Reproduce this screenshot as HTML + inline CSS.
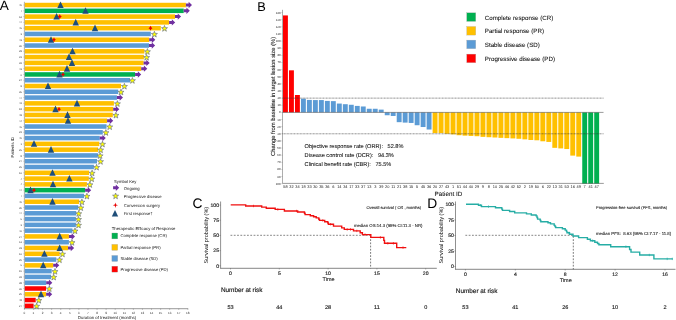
<!DOCTYPE html>
<html><head><meta charset="utf-8"><style>
html,body{margin:0;padding:0;background:#fff;width:676px;height:320px;overflow:hidden;}
svg{display:block;will-change:transform;} .b{stroke:#222;stroke-width:0.15px;} .c{stroke:#222;stroke-width:0.08px;} svg{font-family:"Liberation Sans", sans-serif;text-rendering:geometricPrecision;}
</style></head><body>
<svg width="676" height="320" viewBox="0 0 676 320" font-family='"Liberation Sans", sans-serif'><text x="-0.3" y="9.8" font-size="13.6" fill="#000">A</text>
<line x1="24.4" y1="1.8" x2="24.4" y2="308.8" stroke="#777" stroke-width="0.6"/>
<line x1="24.1" y1="308.7" x2="188.2" y2="308.7" stroke="#555" stroke-width="0.6"/>
<line x1="24.40" y1="308.7" x2="24.40" y2="309.8" stroke="#555" stroke-width="0.4"/>
<text x="24.40" y="313.6" font-size="3.1" fill="#333" text-anchor="middle">0</text>
<line x1="33.48" y1="308.7" x2="33.48" y2="309.8" stroke="#555" stroke-width="0.4"/>
<text x="33.48" y="313.6" font-size="3.1" fill="#333" text-anchor="middle">1</text>
<line x1="42.56" y1="308.7" x2="42.56" y2="309.8" stroke="#555" stroke-width="0.4"/>
<text x="42.56" y="313.6" font-size="3.1" fill="#333" text-anchor="middle">2</text>
<line x1="51.64" y1="308.7" x2="51.64" y2="309.8" stroke="#555" stroke-width="0.4"/>
<text x="51.64" y="313.6" font-size="3.1" fill="#333" text-anchor="middle">3</text>
<line x1="60.72" y1="308.7" x2="60.72" y2="309.8" stroke="#555" stroke-width="0.4"/>
<text x="60.72" y="313.6" font-size="3.1" fill="#333" text-anchor="middle">4</text>
<line x1="69.80" y1="308.7" x2="69.80" y2="309.8" stroke="#555" stroke-width="0.4"/>
<text x="69.80" y="313.6" font-size="3.1" fill="#333" text-anchor="middle">5</text>
<line x1="78.88" y1="308.7" x2="78.88" y2="309.8" stroke="#555" stroke-width="0.4"/>
<text x="78.88" y="313.6" font-size="3.1" fill="#333" text-anchor="middle">6</text>
<line x1="87.96" y1="308.7" x2="87.96" y2="309.8" stroke="#555" stroke-width="0.4"/>
<text x="87.96" y="313.6" font-size="3.1" fill="#333" text-anchor="middle">7</text>
<line x1="97.04" y1="308.7" x2="97.04" y2="309.8" stroke="#555" stroke-width="0.4"/>
<text x="97.04" y="313.6" font-size="3.1" fill="#333" text-anchor="middle">8</text>
<line x1="106.12" y1="308.7" x2="106.12" y2="309.8" stroke="#555" stroke-width="0.4"/>
<text x="106.12" y="313.6" font-size="3.1" fill="#333" text-anchor="middle">9</text>
<line x1="115.20" y1="308.7" x2="115.20" y2="309.8" stroke="#555" stroke-width="0.4"/>
<text x="115.20" y="313.6" font-size="3.1" fill="#333" text-anchor="middle">10</text>
<line x1="124.28" y1="308.7" x2="124.28" y2="309.8" stroke="#555" stroke-width="0.4"/>
<text x="124.28" y="313.6" font-size="3.1" fill="#333" text-anchor="middle">11</text>
<line x1="133.36" y1="308.7" x2="133.36" y2="309.8" stroke="#555" stroke-width="0.4"/>
<text x="133.36" y="313.6" font-size="3.1" fill="#333" text-anchor="middle">12</text>
<line x1="142.44" y1="308.7" x2="142.44" y2="309.8" stroke="#555" stroke-width="0.4"/>
<text x="142.44" y="313.6" font-size="3.1" fill="#333" text-anchor="middle">13</text>
<line x1="151.52" y1="308.7" x2="151.52" y2="309.8" stroke="#555" stroke-width="0.4"/>
<text x="151.52" y="313.6" font-size="3.1" fill="#333" text-anchor="middle">14</text>
<line x1="160.60" y1="308.7" x2="160.60" y2="309.8" stroke="#555" stroke-width="0.4"/>
<text x="160.60" y="313.6" font-size="3.1" fill="#333" text-anchor="middle">15</text>
<line x1="169.68" y1="308.7" x2="169.68" y2="309.8" stroke="#555" stroke-width="0.4"/>
<text x="169.68" y="313.6" font-size="3.1" fill="#333" text-anchor="middle">16</text>
<line x1="178.76" y1="308.7" x2="178.76" y2="309.8" stroke="#555" stroke-width="0.4"/>
<text x="178.76" y="313.6" font-size="3.1" fill="#333" text-anchor="middle">17</text>
<line x1="187.84" y1="308.7" x2="187.84" y2="309.8" stroke="#555" stroke-width="0.4"/>
<text x="187.84" y="313.6" font-size="3.1" fill="#333" text-anchor="middle">18</text>
<text x="78" y="318.6" font-size="4.28" fill="#111">Duration of treatment (months)</text>
<text transform="translate(14.3,157.6) rotate(-90)" font-size="4.2" fill="#111">Patients ID</text>
<rect x="24.80" y="2.78" width="161.10" height="4.50" fill="#FFC000"/>
<line x1="23.4" y1="5.03" x2="24.4" y2="5.03" stroke="#777" stroke-width="0.4"/>
<text x="22.1" y="6.13" font-size="2.7" fill="#333" text-anchor="end">40</text>
<rect x="24.80" y="8.57" width="158.90" height="4.50" fill="#00B050"/>
<line x1="23.4" y1="10.82" x2="24.4" y2="10.82" stroke="#777" stroke-width="0.4"/>
<text x="22.1" y="11.92" font-size="2.7" fill="#333" text-anchor="end">7</text>
<rect x="24.80" y="14.35" width="150.20" height="4.50" fill="#FFC000"/>
<line x1="23.4" y1="16.60" x2="24.4" y2="16.60" stroke="#777" stroke-width="0.4"/>
<text x="22.1" y="17.70" font-size="2.7" fill="#333" text-anchor="end">52</text>
<rect x="24.80" y="20.14" width="144.30" height="4.50" fill="#FFC000"/>
<line x1="23.4" y1="22.39" x2="24.4" y2="22.39" stroke="#777" stroke-width="0.4"/>
<text x="22.1" y="23.49" font-size="2.7" fill="#333" text-anchor="end">47</text>
<rect x="24.80" y="25.92" width="136.00" height="4.50" fill="#FFC000"/>
<line x1="23.4" y1="28.17" x2="24.4" y2="28.17" stroke="#777" stroke-width="0.4"/>
<text x="22.1" y="29.27" font-size="2.7" fill="#333" text-anchor="end">45</text>
<rect x="24.80" y="31.70" width="126.00" height="4.50" fill="#5B9BD5"/>
<line x1="23.4" y1="33.95" x2="24.4" y2="33.95" stroke="#777" stroke-width="0.4"/>
<text x="22.1" y="35.05" font-size="2.7" fill="#333" text-anchor="end">3</text>
<rect x="24.80" y="37.49" width="124.40" height="4.50" fill="#FFC000"/>
<line x1="23.4" y1="39.74" x2="24.4" y2="39.74" stroke="#777" stroke-width="0.4"/>
<text x="22.1" y="40.84" font-size="2.7" fill="#333" text-anchor="end">43</text>
<rect x="24.80" y="43.28" width="124.20" height="4.50" fill="#5B9BD5"/>
<line x1="23.4" y1="45.53" x2="24.4" y2="45.53" stroke="#777" stroke-width="0.4"/>
<text x="22.1" y="46.63" font-size="2.7" fill="#333" text-anchor="end">36</text>
<rect x="24.80" y="49.06" width="119.60" height="4.50" fill="#FFC000"/>
<line x1="23.4" y1="51.31" x2="24.4" y2="51.31" stroke="#777" stroke-width="0.4"/>
<text x="22.1" y="52.41" font-size="2.7" fill="#333" text-anchor="end">29</text>
<rect x="24.80" y="54.84" width="119.10" height="4.50" fill="#FFC000"/>
<line x1="23.4" y1="57.09" x2="24.4" y2="57.09" stroke="#777" stroke-width="0.4"/>
<text x="22.1" y="58.20" font-size="2.7" fill="#333" text-anchor="end">31</text>
<rect x="24.80" y="60.63" width="118.80" height="4.50" fill="#FFC000"/>
<line x1="23.4" y1="62.88" x2="24.4" y2="62.88" stroke="#777" stroke-width="0.4"/>
<text x="22.1" y="63.98" font-size="2.7" fill="#333" text-anchor="end">32</text>
<rect x="24.80" y="66.42" width="116.40" height="4.50" fill="#FFC000"/>
<line x1="23.4" y1="68.67" x2="24.4" y2="68.67" stroke="#777" stroke-width="0.4"/>
<text x="22.1" y="69.77" font-size="2.7" fill="#333" text-anchor="end">43</text>
<rect x="24.80" y="72.20" width="110.30" height="4.50" fill="#00B050"/>
<line x1="23.4" y1="74.45" x2="24.4" y2="74.45" stroke="#777" stroke-width="0.4"/>
<text x="22.1" y="75.55" font-size="2.7" fill="#333" text-anchor="end">6</text>
<rect x="24.80" y="77.98" width="105.20" height="4.50" fill="#5B9BD5"/>
<line x1="23.4" y1="80.23" x2="24.4" y2="80.23" stroke="#777" stroke-width="0.4"/>
<text x="22.1" y="81.33" font-size="2.7" fill="#333" text-anchor="end">24</text>
<rect x="24.80" y="83.77" width="96.20" height="4.50" fill="#FFC000"/>
<line x1="23.4" y1="86.02" x2="24.4" y2="86.02" stroke="#777" stroke-width="0.4"/>
<text x="22.1" y="87.12" font-size="2.7" fill="#333" text-anchor="end">9</text>
<rect x="24.80" y="89.56" width="93.40" height="4.50" fill="#5B9BD5"/>
<line x1="23.4" y1="91.81" x2="24.4" y2="91.81" stroke="#777" stroke-width="0.4"/>
<text x="22.1" y="92.91" font-size="2.7" fill="#333" text-anchor="end">35</text>
<rect x="24.80" y="95.34" width="92.10" height="4.50" fill="#5B9BD5"/>
<line x1="23.4" y1="97.59" x2="24.4" y2="97.59" stroke="#777" stroke-width="0.4"/>
<text x="22.1" y="98.69" font-size="2.7" fill="#333" text-anchor="end">47</text>
<rect x="24.80" y="101.12" width="89.10" height="4.50" fill="#FFC000"/>
<line x1="23.4" y1="103.38" x2="24.4" y2="103.38" stroke="#777" stroke-width="0.4"/>
<text x="22.1" y="104.47" font-size="2.7" fill="#333" text-anchor="end">42</text>
<rect x="24.80" y="106.91" width="88.40" height="4.50" fill="#FFC000"/>
<line x1="23.4" y1="109.16" x2="24.4" y2="109.16" stroke="#777" stroke-width="0.4"/>
<text x="22.1" y="110.26" font-size="2.7" fill="#333" text-anchor="end">18</text>
<rect x="24.80" y="112.70" width="88.00" height="4.50" fill="#FFC000"/>
<line x1="23.4" y1="114.95" x2="24.4" y2="114.95" stroke="#777" stroke-width="0.4"/>
<text x="22.1" y="116.05" font-size="2.7" fill="#333" text-anchor="end">49</text>
<rect x="24.80" y="118.48" width="82.30" height="4.50" fill="#FFC000"/>
<line x1="23.4" y1="120.73" x2="24.4" y2="120.73" stroke="#777" stroke-width="0.4"/>
<text x="22.1" y="121.83" font-size="2.7" fill="#333" text-anchor="end">44</text>
<rect x="24.80" y="124.27" width="81.70" height="4.50" fill="#5B9BD5"/>
<line x1="23.4" y1="126.52" x2="24.4" y2="126.52" stroke="#777" stroke-width="0.4"/>
<text x="22.1" y="127.61" font-size="2.7" fill="#333" text-anchor="end">45</text>
<rect x="24.80" y="130.05" width="78.00" height="4.50" fill="#5B9BD5"/>
<line x1="23.4" y1="132.30" x2="24.4" y2="132.30" stroke="#777" stroke-width="0.4"/>
<text x="22.1" y="133.40" font-size="2.7" fill="#333" text-anchor="end">22</text>
<rect x="24.80" y="135.84" width="74.90" height="4.50" fill="#5B9BD5"/>
<line x1="23.4" y1="138.09" x2="24.4" y2="138.09" stroke="#777" stroke-width="0.4"/>
<text x="22.1" y="139.19" font-size="2.7" fill="#333" text-anchor="end">40</text>
<rect x="24.80" y="141.62" width="74.50" height="4.50" fill="#FFC000"/>
<line x1="23.4" y1="143.87" x2="24.4" y2="143.87" stroke="#777" stroke-width="0.4"/>
<text x="22.1" y="144.97" font-size="2.7" fill="#333" text-anchor="end">1</text>
<rect x="24.80" y="147.41" width="73.20" height="4.50" fill="#FFC000"/>
<line x1="23.4" y1="149.66" x2="24.4" y2="149.66" stroke="#777" stroke-width="0.4"/>
<text x="22.1" y="150.75" font-size="2.7" fill="#333" text-anchor="end">25</text>
<rect x="24.80" y="153.19" width="73.10" height="4.50" fill="#5B9BD5"/>
<line x1="23.4" y1="155.44" x2="24.4" y2="155.44" stroke="#777" stroke-width="0.4"/>
<text x="22.1" y="156.54" font-size="2.7" fill="#333" text-anchor="end">8</text>
<rect x="24.80" y="158.97" width="72.20" height="4.50" fill="#5B9BD5"/>
<line x1="23.4" y1="161.22" x2="24.4" y2="161.22" stroke="#777" stroke-width="0.4"/>
<text x="22.1" y="162.32" font-size="2.7" fill="#333" text-anchor="end">27</text>
<rect x="24.80" y="164.76" width="69.10" height="4.50" fill="#5B9BD5"/>
<line x1="23.4" y1="167.01" x2="24.4" y2="167.01" stroke="#777" stroke-width="0.4"/>
<text x="22.1" y="168.11" font-size="2.7" fill="#333" text-anchor="end">25</text>
<rect x="24.80" y="170.55" width="64.30" height="4.50" fill="#FFC000"/>
<line x1="23.4" y1="172.80" x2="24.4" y2="172.80" stroke="#777" stroke-width="0.4"/>
<text x="22.1" y="173.90" font-size="2.7" fill="#333" text-anchor="end">16</text>
<rect x="24.80" y="176.33" width="64.00" height="4.50" fill="#FFC000"/>
<line x1="23.4" y1="178.58" x2="24.4" y2="178.58" stroke="#777" stroke-width="0.4"/>
<text x="22.1" y="179.68" font-size="2.7" fill="#333" text-anchor="end">4</text>
<rect x="24.80" y="182.12" width="62.10" height="4.50" fill="#FFC000"/>
<line x1="23.4" y1="184.37" x2="24.4" y2="184.37" stroke="#777" stroke-width="0.4"/>
<text x="22.1" y="185.47" font-size="2.7" fill="#333" text-anchor="end">4</text>
<rect x="24.80" y="187.90" width="60.30" height="4.50" fill="#00B050"/>
<line x1="23.4" y1="190.15" x2="24.4" y2="190.15" stroke="#777" stroke-width="0.4"/>
<text x="22.1" y="191.25" font-size="2.7" fill="#333" text-anchor="end">47</text>
<rect x="24.80" y="193.69" width="59.20" height="4.50" fill="#5B9BD5"/>
<line x1="23.4" y1="195.94" x2="24.4" y2="195.94" stroke="#777" stroke-width="0.4"/>
<text x="22.1" y="197.03" font-size="2.7" fill="#333" text-anchor="end">7</text>
<rect x="24.80" y="199.47" width="54.30" height="4.50" fill="#FFC000"/>
<line x1="23.4" y1="201.72" x2="24.4" y2="201.72" stroke="#777" stroke-width="0.4"/>
<text x="22.1" y="202.82" font-size="2.7" fill="#333" text-anchor="end">40</text>
<rect x="24.80" y="205.25" width="53.40" height="4.50" fill="#5B9BD5"/>
<line x1="23.4" y1="207.50" x2="24.4" y2="207.50" stroke="#777" stroke-width="0.4"/>
<text x="22.1" y="208.60" font-size="2.7" fill="#333" text-anchor="end">30</text>
<rect x="24.80" y="211.04" width="51.40" height="4.50" fill="#5B9BD5"/>
<line x1="23.4" y1="213.29" x2="24.4" y2="213.29" stroke="#777" stroke-width="0.4"/>
<text x="22.1" y="214.39" font-size="2.7" fill="#333" text-anchor="end">47</text>
<rect x="24.80" y="216.83" width="51.10" height="4.50" fill="#5B9BD5"/>
<line x1="23.4" y1="219.08" x2="24.4" y2="219.08" stroke="#777" stroke-width="0.4"/>
<text x="22.1" y="220.18" font-size="2.7" fill="#333" text-anchor="end">5</text>
<rect x="24.80" y="222.61" width="51.10" height="4.50" fill="#5B9BD5"/>
<line x1="23.4" y1="224.86" x2="24.4" y2="224.86" stroke="#777" stroke-width="0.4"/>
<text x="22.1" y="225.96" font-size="2.7" fill="#333" text-anchor="end">3</text>
<rect x="24.80" y="228.40" width="47.60" height="4.50" fill="#5B9BD5"/>
<line x1="23.4" y1="230.65" x2="24.4" y2="230.65" stroke="#777" stroke-width="0.4"/>
<text x="22.1" y="231.75" font-size="2.7" fill="#333" text-anchor="end">46</text>
<rect x="24.80" y="234.18" width="44.10" height="4.50" fill="#FFC000"/>
<line x1="23.4" y1="236.43" x2="24.4" y2="236.43" stroke="#777" stroke-width="0.4"/>
<text x="22.1" y="237.53" font-size="2.7" fill="#333" text-anchor="end">27</text>
<rect x="24.80" y="239.97" width="44.10" height="4.50" fill="#5B9BD5"/>
<line x1="23.4" y1="242.22" x2="24.4" y2="242.22" stroke="#777" stroke-width="0.4"/>
<text x="22.1" y="243.31" font-size="2.7" fill="#333" text-anchor="end">51</text>
<rect x="24.80" y="245.75" width="43.20" height="4.50" fill="#FFC000"/>
<line x1="23.4" y1="248.00" x2="24.4" y2="248.00" stroke="#777" stroke-width="0.4"/>
<text x="22.1" y="249.10" font-size="2.7" fill="#333" text-anchor="end">33</text>
<rect x="24.80" y="251.53" width="34.90" height="4.50" fill="#FFC000"/>
<line x1="23.4" y1="253.78" x2="24.4" y2="253.78" stroke="#777" stroke-width="0.4"/>
<text x="22.1" y="254.88" font-size="2.7" fill="#333" text-anchor="end">16</text>
<rect x="24.80" y="257.32" width="31.50" height="4.50" fill="#5B9BD5"/>
<line x1="23.4" y1="259.57" x2="24.4" y2="259.57" stroke="#777" stroke-width="0.4"/>
<text x="22.1" y="260.67" font-size="2.7" fill="#333" text-anchor="end">20</text>
<rect x="24.80" y="263.10" width="28.40" height="4.50" fill="#FFC000"/>
<line x1="23.4" y1="265.35" x2="24.4" y2="265.35" stroke="#777" stroke-width="0.4"/>
<text x="22.1" y="266.45" font-size="2.7" fill="#333" text-anchor="end">5</text>
<rect x="24.80" y="268.89" width="26.90" height="4.50" fill="#5B9BD5"/>
<line x1="23.4" y1="271.14" x2="24.4" y2="271.14" stroke="#777" stroke-width="0.4"/>
<text x="22.1" y="272.24" font-size="2.7" fill="#333" text-anchor="end">10</text>
<rect x="24.80" y="274.67" width="26.20" height="4.50" fill="#5B9BD5"/>
<line x1="23.4" y1="276.92" x2="24.4" y2="276.92" stroke="#777" stroke-width="0.4"/>
<text x="22.1" y="278.02" font-size="2.7" fill="#333" text-anchor="end">32</text>
<rect x="24.80" y="280.46" width="21.40" height="4.50" fill="#5B9BD5"/>
<line x1="23.4" y1="282.71" x2="24.4" y2="282.71" stroke="#777" stroke-width="0.4"/>
<text x="22.1" y="283.81" font-size="2.7" fill="#333" text-anchor="end">38</text>
<rect x="24.80" y="286.25" width="21.30" height="4.50" fill="#FF0000"/>
<line x1="23.4" y1="288.50" x2="24.4" y2="288.50" stroke="#777" stroke-width="0.4"/>
<text x="22.1" y="289.60" font-size="2.7" fill="#333" text-anchor="end">36</text>
<rect x="24.80" y="292.03" width="21.30" height="4.50" fill="#FFC000"/>
<line x1="23.4" y1="294.28" x2="24.4" y2="294.28" stroke="#777" stroke-width="0.4"/>
<text x="22.1" y="295.38" font-size="2.7" fill="#333" text-anchor="end">20</text>
<rect x="24.80" y="297.81" width="10.90" height="4.50" fill="#FF0000"/>
<line x1="23.4" y1="300.06" x2="24.4" y2="300.06" stroke="#777" stroke-width="0.4"/>
<text x="22.1" y="301.17" font-size="2.7" fill="#333" text-anchor="end">48</text>
<rect x="24.80" y="303.60" width="8.80" height="4.50" fill="#FF0000"/>
<line x1="23.4" y1="305.85" x2="24.4" y2="305.85" stroke="#777" stroke-width="0.4"/>
<text x="22.1" y="306.95" font-size="2.7" fill="#333" text-anchor="end">27</text>
<polygon points="60.50,1.43 63.70,8.03 57.30,8.03" fill="#1F4E79"/>
<polygon points="185.90,3.53 188.65,3.53 188.65,1.83 192.00,5.03 188.65,8.23 188.65,6.53 185.90,6.53" fill="#7030A0"/>
<polygon points="85.50,7.22 88.70,13.82 82.30,13.82" fill="#1F4E79"/>
<polygon points="183.70,9.32 186.44,9.32 186.44,7.62 189.80,10.82 186.44,14.02 186.44,12.32 183.70,12.32" fill="#7030A0"/>
<polygon points="56.60,13.00 59.80,19.60 53.40,19.60" fill="#1F4E79"/>
<polygon points="59.80,14.10 60.60,15.80 61.80,16.60 60.60,17.40 59.80,19.10 59.00,17.40 57.80,16.60 59.00,15.80" fill="#E80000"/>
<polygon points="175.00,15.10 177.75,15.10 177.75,13.40 181.10,16.60 177.75,19.80 177.75,18.10 175.00,18.10" fill="#7030A0"/>
<polygon points="75.75,18.79 78.95,25.39 72.55,25.39" fill="#1F4E79"/>
<polygon points="169.10,20.89 171.84,20.89 171.84,19.19 175.20,22.39 171.84,25.59 171.84,23.89 169.10,23.89" fill="#7030A0"/>
<polygon points="95.00,24.57 98.20,31.17 91.80,31.17" fill="#1F4E79"/>
<polygon points="150.50,25.67 151.30,27.37 152.50,28.17 151.30,28.97 150.50,30.67 149.70,28.97 148.50,28.17 149.70,27.37" fill="#E80000"/>
<polygon points="164.50,25.47 165.29,27.58 167.54,27.68 165.78,29.09 166.38,31.26 164.50,30.02 162.62,31.26 163.22,29.09 161.46,27.68 163.71,27.58" fill="#FFFF00" stroke="#66708a" stroke-width="0.65"/>
<polygon points="154.40,31.25 155.19,33.36 157.44,33.47 155.68,34.87 156.28,37.04 154.40,35.80 152.52,37.04 153.12,34.87 151.36,33.47 153.61,33.36" fill="#FFFF00" stroke="#66708a" stroke-width="0.65"/>
<polygon points="51.00,36.14 54.20,42.74 47.80,42.74" fill="#1F4E79"/>
<polygon points="54.00,37.24 54.80,38.94 56.00,39.74 54.80,40.54 54.00,42.24 53.20,40.54 52.00,39.74 53.20,38.94" fill="#E80000"/>
<polygon points="149.20,38.24 151.94,38.24 151.94,36.54 155.30,39.74 151.94,42.94 151.94,41.24 149.20,41.24" fill="#7030A0"/>
<polygon points="149.00,44.03 151.75,44.03 151.75,42.33 155.10,45.53 151.75,48.73 151.75,47.03 149.00,47.03" fill="#7030A0"/>
<polygon points="72.50,47.71 75.70,54.31 69.30,54.31" fill="#1F4E79"/>
<polygon points="147.40,48.61 148.19,50.72 150.44,50.82 148.68,52.23 149.28,54.40 147.40,53.16 145.52,54.40 146.12,52.23 144.36,50.82 146.61,50.72" fill="#FFFF00" stroke="#66708a" stroke-width="0.65"/>
<polygon points="69.00,53.50 72.20,60.09 65.80,60.09" fill="#1F4E79"/>
<polygon points="146.60,54.39 147.39,56.50 149.64,56.61 147.88,58.01 148.48,60.18 146.60,58.95 144.72,60.18 145.32,58.01 143.56,56.61 145.81,56.50" fill="#FFFF00" stroke="#66708a" stroke-width="0.65"/>
<polygon points="72.00,59.28 75.20,65.88 68.80,65.88" fill="#1F4E79"/>
<polygon points="143.60,61.38 146.34,61.38 146.34,59.68 149.70,62.88 146.34,66.08 146.34,64.38 143.60,64.38" fill="#7030A0"/>
<polygon points="67.00,65.07 70.20,71.67 63.80,71.67" fill="#1F4E79"/>
<polygon points="141.20,67.17 143.94,67.17 143.94,65.47 147.30,68.67 143.94,71.87 143.94,70.17 141.20,70.17" fill="#7030A0"/>
<polygon points="59.50,70.85 62.70,77.45 56.30,77.45" fill="#1F4E79"/>
<polygon points="63.00,71.95 63.80,73.65 65.00,74.45 63.80,75.25 63.00,76.95 62.20,75.25 61.00,74.45 62.20,73.65" fill="#E80000"/>
<polygon points="135.10,72.95 137.84,72.95 137.84,71.25 141.20,74.45 137.84,77.65 137.84,75.95 135.10,75.95" fill="#7030A0"/>
<polygon points="132.40,77.53 133.19,79.64 135.44,79.75 133.68,81.15 134.28,83.32 132.40,82.08 130.52,83.32 131.12,81.15 129.36,79.75 131.61,79.64" fill="#FFFF00" stroke="#66708a" stroke-width="0.65"/>
<polygon points="48.00,82.42 51.20,89.02 44.80,89.02" fill="#1F4E79"/>
<polygon points="124.40,83.32 125.19,85.43 127.44,85.53 125.68,86.94 126.28,89.11 124.40,87.87 122.52,89.11 123.12,86.94 121.36,85.53 123.61,85.43" fill="#FFFF00" stroke="#66708a" stroke-width="0.65"/>
<polygon points="121.00,89.11 121.79,91.21 124.04,91.32 122.28,92.72 122.88,94.89 121.00,93.66 119.12,94.89 119.72,92.72 117.96,91.32 120.21,91.21" fill="#FFFF00" stroke="#66708a" stroke-width="0.65"/>
<polygon points="116.90,96.09 119.65,96.09 119.65,94.39 123.00,97.59 119.65,100.79 119.65,99.09 116.90,99.09" fill="#7030A0"/>
<polygon points="77.00,99.78 80.20,106.38 73.80,106.38" fill="#1F4E79"/>
<polygon points="117.40,100.67 118.19,102.78 120.44,102.89 118.68,104.29 119.28,106.46 117.40,105.22 115.52,106.46 116.12,104.29 114.36,102.89 116.61,102.78" fill="#FFFF00" stroke="#66708a" stroke-width="0.65"/>
<polygon points="55.50,105.56 58.70,112.16 52.30,112.16" fill="#1F4E79"/>
<polygon points="59.00,106.66 59.80,108.36 61.00,109.16 59.80,109.96 59.00,111.66 58.20,109.96 57.00,109.16 58.20,108.36" fill="#E80000"/>
<polygon points="113.20,107.66 115.95,107.66 115.95,105.96 119.30,109.16 115.95,112.36 115.95,110.66 113.20,110.66" fill="#7030A0"/>
<polygon points="67.50,111.35 70.70,117.95 64.30,117.95" fill="#1F4E79"/>
<polygon points="115.90,112.25 116.69,114.35 118.94,114.46 117.18,115.86 117.78,118.03 115.90,116.80 114.02,118.03 114.62,115.86 112.86,114.46 115.11,114.35" fill="#FFFF00" stroke="#66708a" stroke-width="0.65"/>
<polygon points="68.00,117.13 71.20,123.73 64.80,123.73" fill="#1F4E79"/>
<polygon points="107.10,119.23 109.84,119.23 109.84,117.53 113.20,120.73 109.84,123.93 109.84,122.23 107.10,122.23" fill="#7030A0"/>
<polygon points="109.70,123.81 110.49,125.92 112.74,126.03 110.98,127.43 111.58,129.60 109.70,128.37 107.82,129.60 108.42,127.43 106.66,126.03 108.91,125.92" fill="#FFFF00" stroke="#66708a" stroke-width="0.65"/>
<polygon points="105.90,129.60 106.69,131.71 108.94,131.81 107.18,133.22 107.78,135.39 105.90,134.15 104.02,135.39 104.62,133.22 102.86,131.81 105.11,131.71" fill="#FFFF00" stroke="#66708a" stroke-width="0.65"/>
<polygon points="99.70,136.59 102.45,136.59 102.45,134.89 105.80,138.09 102.45,141.28 102.45,139.59 99.70,139.59" fill="#7030A0"/>
<polygon points="34.00,140.27 37.20,146.87 30.80,146.87" fill="#1F4E79"/>
<polygon points="102.50,141.17 103.29,143.28 105.54,143.38 103.78,144.79 104.38,146.96 102.50,145.72 100.62,146.96 101.22,144.79 99.46,143.38 101.71,143.28" fill="#FFFF00" stroke="#66708a" stroke-width="0.65"/>
<polygon points="51.00,146.05 54.20,152.66 47.80,152.66" fill="#1F4E79"/>
<polygon points="100.60,146.96 101.39,149.06 103.64,149.17 101.88,150.57 102.48,152.74 100.60,151.50 98.72,152.74 99.32,150.57 97.56,149.17 99.81,149.06" fill="#FFFF00" stroke="#66708a" stroke-width="0.65"/>
<polygon points="100.10,152.74 100.89,154.85 103.14,154.95 101.38,156.36 101.98,158.53 100.10,157.29 98.22,158.53 98.82,156.36 97.06,154.95 99.31,154.85" fill="#FFFF00" stroke="#66708a" stroke-width="0.65"/>
<polygon points="100.50,158.53 101.29,160.63 103.54,160.74 101.78,162.14 102.38,164.31 100.50,163.07 98.62,164.31 99.22,162.14 97.46,160.74 99.71,160.63" fill="#FFFF00" stroke="#66708a" stroke-width="0.65"/>
<polygon points="96.60,164.31 97.39,166.42 99.64,166.52 97.88,167.93 98.48,170.10 96.60,168.86 94.72,170.10 95.32,167.93 93.56,166.52 95.81,166.42" fill="#FFFF00" stroke="#66708a" stroke-width="0.65"/>
<polygon points="52.50,169.19 55.70,175.80 49.30,175.80" fill="#1F4E79"/>
<polygon points="92.10,170.10 92.89,172.20 95.14,172.31 93.38,173.71 93.98,175.88 92.10,174.65 90.22,175.88 90.82,173.71 89.06,172.31 91.31,172.20" fill="#FFFF00" stroke="#66708a" stroke-width="0.65"/>
<polygon points="69.40,174.98 72.60,181.58 66.20,181.58" fill="#1F4E79"/>
<polygon points="91.70,175.88 92.49,177.99 94.74,178.09 92.98,179.50 93.58,181.67 91.70,180.43 89.82,181.67 90.42,179.50 88.66,178.09 90.91,177.99" fill="#FFFF00" stroke="#66708a" stroke-width="0.65"/>
<polygon points="53.00,180.76 56.20,187.37 49.80,187.37" fill="#1F4E79"/>
<polygon points="89.90,181.67 90.69,183.77 92.94,183.88 91.18,185.28 91.78,187.45 89.90,186.22 88.02,187.45 88.62,185.28 86.86,183.88 89.11,183.77" fill="#FFFF00" stroke="#66708a" stroke-width="0.65"/>
<polygon points="30.50,186.55 33.70,193.15 27.30,193.15" fill="#1F4E79"/>
<polygon points="34.00,187.65 34.80,189.35 36.00,190.15 34.80,190.95 34.00,192.65 33.20,190.95 32.00,190.15 33.20,189.35" fill="#E80000"/>
<polygon points="85.10,188.65 87.84,188.65 87.84,186.95 91.20,190.15 87.84,193.35 87.84,191.65 85.10,191.65" fill="#7030A0"/>
<polygon points="86.90,193.24 87.69,195.34 89.94,195.45 88.18,196.85 88.78,199.02 86.90,197.78 85.02,199.02 85.62,196.85 83.86,195.45 86.11,195.34" fill="#FFFF00" stroke="#66708a" stroke-width="0.65"/>
<polygon points="52.50,198.12 55.70,204.72 49.30,204.72" fill="#1F4E79"/>
<polygon points="81.90,199.02 82.69,201.13 84.94,201.23 83.18,202.64 83.78,204.81 81.90,203.57 80.02,204.81 80.62,202.64 78.86,201.23 81.11,201.13" fill="#FFFF00" stroke="#66708a" stroke-width="0.65"/>
<polygon points="80.80,204.81 81.59,206.91 83.84,207.02 82.08,208.42 82.68,210.59 80.80,209.35 78.92,210.59 79.52,208.42 77.76,207.02 80.01,206.91" fill="#FFFF00" stroke="#66708a" stroke-width="0.65"/>
<polygon points="78.70,210.59 79.49,212.70 81.74,212.80 79.98,214.21 80.58,216.38 78.70,215.14 76.82,216.38 77.42,214.21 75.66,212.80 77.91,212.70" fill="#FFFF00" stroke="#66708a" stroke-width="0.65"/>
<polygon points="78.50,216.38 79.29,218.48 81.54,218.59 79.78,219.99 80.38,222.16 78.50,220.93 76.62,222.16 77.22,219.99 75.46,218.59 77.71,218.48" fill="#FFFF00" stroke="#66708a" stroke-width="0.65"/>
<polygon points="78.50,222.16 79.29,224.27 81.54,224.37 79.78,225.78 80.38,227.95 78.50,226.71 76.62,227.95 77.22,225.78 75.46,224.37 77.71,224.27" fill="#FFFF00" stroke="#66708a" stroke-width="0.65"/>
<polygon points="75.00,227.95 75.79,230.05 78.04,230.16 76.28,231.56 76.88,233.73 75.00,232.50 73.12,233.73 73.72,231.56 71.96,230.16 74.21,230.05" fill="#FFFF00" stroke="#66708a" stroke-width="0.65"/>
<polygon points="59.70,232.83 62.90,239.43 56.50,239.43" fill="#1F4E79"/>
<polygon points="68.90,234.93 71.65,234.93 71.65,233.23 75.00,236.43 71.65,239.63 71.65,237.93 68.90,237.93" fill="#7030A0"/>
<polygon points="72.00,239.52 72.79,241.62 75.04,241.73 73.28,243.13 73.88,245.30 72.00,244.06 70.12,245.30 70.72,243.13 68.96,241.73 71.21,241.62" fill="#FFFF00" stroke="#66708a" stroke-width="0.65"/>
<polygon points="59.70,244.40 62.90,251.00 56.50,251.00" fill="#1F4E79"/>
<polygon points="68.00,246.50 70.75,246.50 70.75,244.80 74.10,248.00 70.75,251.20 70.75,249.50 68.00,249.50" fill="#7030A0"/>
<polygon points="44.40,250.18 47.60,256.78 41.20,256.78" fill="#1F4E79"/>
<polygon points="62.50,251.09 63.29,253.19 65.54,253.30 63.78,254.70 64.38,256.87 62.50,255.63 60.62,256.87 61.22,254.70 59.46,253.30 61.71,253.19" fill="#FFFF00" stroke="#66708a" stroke-width="0.65"/>
<polygon points="59.50,256.87 60.29,258.98 62.54,259.08 60.78,260.49 61.38,262.66 59.50,261.42 57.62,262.66 58.22,260.49 56.46,259.08 58.71,258.98" fill="#FFFF00" stroke="#66708a" stroke-width="0.65"/>
<polygon points="43.20,261.75 46.40,268.35 40.00,268.35" fill="#1F4E79"/>
<polygon points="53.20,263.85 55.95,263.85 55.95,262.15 59.30,265.35 55.95,268.55 55.95,266.85 53.20,266.85" fill="#7030A0"/>
<polygon points="55.00,268.44 55.79,270.55 58.04,270.65 56.28,272.06 56.88,274.23 55.00,272.99 53.12,274.23 53.72,272.06 51.96,270.65 54.21,270.55" fill="#FFFF00" stroke="#66708a" stroke-width="0.65"/>
<polygon points="53.70,274.22 54.49,276.33 56.74,276.44 54.98,277.84 55.58,280.01 53.70,278.77 51.82,280.01 52.42,277.84 50.66,276.44 52.91,276.33" fill="#FFFF00" stroke="#66708a" stroke-width="0.65"/>
<polygon points="46.20,281.21 48.95,281.21 48.95,279.51 52.30,282.71 48.95,285.91 48.95,284.21 46.20,284.21" fill="#7030A0"/>
<polygon points="49.30,285.80 50.09,287.90 52.34,288.01 50.58,289.41 51.18,291.58 49.30,290.35 47.42,291.58 48.02,289.41 46.26,288.01 48.51,287.90" fill="#FFFF00" stroke="#66708a" stroke-width="0.65"/>
<polygon points="41.00,290.68 44.20,297.28 37.80,297.28" fill="#1F4E79"/>
<polygon points="46.10,292.78 48.84,292.78 48.84,291.08 52.20,294.28 48.84,297.48 48.84,295.78 46.10,295.78" fill="#7030A0"/>
<polygon points="38.80,297.37 39.59,299.47 41.84,299.58 40.08,300.98 40.68,303.15 38.80,301.92 36.92,303.15 37.52,300.98 35.76,299.58 38.01,299.47" fill="#FFFF00" stroke="#66708a" stroke-width="0.65"/>
<polygon points="36.60,303.15 37.39,305.26 39.64,305.36 37.88,306.77 38.48,308.94 36.60,307.70 34.72,308.94 35.32,306.77 33.56,305.36 35.81,305.26" fill="#FFFF00" stroke="#66708a" stroke-width="0.65"/>
<text x="114" y="182.5" font-size="4.2" fill="#111">Symbol Key</text>
<polygon points="113.10,186.30 115.84,186.30 115.84,184.60 119.20,187.80 115.84,191.00 115.84,189.30 113.10,189.30" fill="#7030A0"/>
<text x="123.8" y="189.7" font-size="4.2" fill="#111">Ongoing</text>
<polygon points="115.60,193.00 116.39,195.11 118.64,195.21 116.88,196.62 117.48,198.79 115.60,197.55 113.72,198.79 114.32,196.62 112.56,195.21 114.81,195.11" fill="#FFFF00" stroke="#66708a" stroke-width="0.65"/>
<text x="123.8" y="198.0" font-size="4.2" fill="#111">Progressive disease</text>
<polygon points="115.40,202.50 116.00,204.60 118.00,205.20 116.00,205.80 115.40,207.90 114.80,205.80 112.80,205.20 114.80,204.60" fill="#E80000"/>
<text x="123.8" y="206.7" font-size="4.2" fill="#111">Conversion surgery</text>
<polygon points="115.00,210.00 118.20,216.60 111.80,216.60" fill="#1F4E79"/>
<text x="123.8" y="215.4" font-size="4.2" fill="#111">First response†</text>
<text x="111.75" y="230.3" font-size="4.27" fill="#111">Therapeutic Efficacy of Response</text>
<rect x="111.9" y="233.00" width="5.8" height="5.9" fill="#00B050" stroke="#999" stroke-width="0.3"/>
<text x="120.5" y="237.40" font-size="4.2" fill="#111">Complete response (CR)</text>
<rect x="111.9" y="244.40" width="5.8" height="5.9" fill="#FFC000" stroke="#999" stroke-width="0.3"/>
<text x="120.5" y="248.80" font-size="4.2" fill="#111">Partial response (PR)</text>
<rect x="111.9" y="255.50" width="5.8" height="5.9" fill="#5B9BD5" stroke="#999" stroke-width="0.3"/>
<text x="120.5" y="259.90" font-size="4.2" fill="#111">Stable disease (SD)</text>
<rect x="111.9" y="266.20" width="5.8" height="5.9" fill="#FF0000" stroke="#999" stroke-width="0.3"/>
<text x="120.5" y="270.60" font-size="4.2" fill="#111">Progressive disease (PD)</text>
<text x="257.3" y="11.1" font-size="12.8" fill="#000">B</text>
<line x1="282.5" y1="9.8" x2="282.5" y2="183.4" stroke="#777" stroke-width="0.6"/>
<line x1="281.4" y1="12.58" x2="282.5" y2="12.58" stroke="#777" stroke-width="0.4"/>
<text x="280.6" y="13.58" font-size="2.9" fill="#222" text-anchor="end">140</text>
<line x1="281.4" y1="19.71" x2="282.5" y2="19.71" stroke="#777" stroke-width="0.4"/>
<text x="280.6" y="20.71" font-size="2.9" fill="#222" text-anchor="end">130</text>
<line x1="281.4" y1="26.84" x2="282.5" y2="26.84" stroke="#777" stroke-width="0.4"/>
<text x="280.6" y="27.84" font-size="2.9" fill="#222" text-anchor="end">120</text>
<line x1="281.4" y1="33.97" x2="282.5" y2="33.97" stroke="#777" stroke-width="0.4"/>
<text x="280.6" y="34.97" font-size="2.9" fill="#222" text-anchor="end">110</text>
<line x1="281.4" y1="41.10" x2="282.5" y2="41.10" stroke="#777" stroke-width="0.4"/>
<text x="280.6" y="42.10" font-size="2.9" fill="#222" text-anchor="end">100</text>
<line x1="281.4" y1="48.23" x2="282.5" y2="48.23" stroke="#777" stroke-width="0.4"/>
<text x="280.6" y="49.23" font-size="2.9" fill="#222" text-anchor="end">90</text>
<line x1="281.4" y1="55.36" x2="282.5" y2="55.36" stroke="#777" stroke-width="0.4"/>
<text x="280.6" y="56.36" font-size="2.9" fill="#222" text-anchor="end">80</text>
<line x1="281.4" y1="62.49" x2="282.5" y2="62.49" stroke="#777" stroke-width="0.4"/>
<text x="280.6" y="63.49" font-size="2.9" fill="#222" text-anchor="end">70</text>
<line x1="281.4" y1="69.62" x2="282.5" y2="69.62" stroke="#777" stroke-width="0.4"/>
<text x="280.6" y="70.62" font-size="2.9" fill="#222" text-anchor="end">60</text>
<line x1="281.4" y1="76.75" x2="282.5" y2="76.75" stroke="#777" stroke-width="0.4"/>
<text x="280.6" y="77.75" font-size="2.9" fill="#222" text-anchor="end">50</text>
<line x1="281.4" y1="83.88" x2="282.5" y2="83.88" stroke="#777" stroke-width="0.4"/>
<text x="280.6" y="84.88" font-size="2.9" fill="#222" text-anchor="end">40</text>
<line x1="281.4" y1="91.01" x2="282.5" y2="91.01" stroke="#777" stroke-width="0.4"/>
<text x="280.6" y="92.01" font-size="2.9" fill="#222" text-anchor="end">30</text>
<line x1="281.4" y1="98.14" x2="282.5" y2="98.14" stroke="#777" stroke-width="0.4"/>
<text x="280.6" y="99.14" font-size="2.9" fill="#222" text-anchor="end">20</text>
<line x1="281.4" y1="105.27" x2="282.5" y2="105.27" stroke="#777" stroke-width="0.4"/>
<text x="280.6" y="106.27" font-size="2.9" fill="#222" text-anchor="end">10</text>
<line x1="281.4" y1="112.40" x2="282.5" y2="112.40" stroke="#777" stroke-width="0.4"/>
<text x="280.6" y="113.40" font-size="2.9" fill="#222" text-anchor="end">0</text>
<line x1="281.4" y1="119.53" x2="282.5" y2="119.53" stroke="#777" stroke-width="0.4"/>
<text x="280.6" y="120.53" font-size="2.9" fill="#222" text-anchor="end">-10</text>
<line x1="281.4" y1="126.66" x2="282.5" y2="126.66" stroke="#777" stroke-width="0.4"/>
<text x="280.6" y="127.66" font-size="2.9" fill="#222" text-anchor="end">-20</text>
<line x1="281.4" y1="133.79" x2="282.5" y2="133.79" stroke="#777" stroke-width="0.4"/>
<text x="280.6" y="134.79" font-size="2.9" fill="#222" text-anchor="end">-30</text>
<line x1="281.4" y1="140.92" x2="282.5" y2="140.92" stroke="#777" stroke-width="0.4"/>
<text x="280.6" y="141.92" font-size="2.9" fill="#222" text-anchor="end">-40</text>
<line x1="281.4" y1="148.05" x2="282.5" y2="148.05" stroke="#777" stroke-width="0.4"/>
<text x="280.6" y="149.05" font-size="2.9" fill="#222" text-anchor="end">-50</text>
<line x1="281.4" y1="155.18" x2="282.5" y2="155.18" stroke="#777" stroke-width="0.4"/>
<text x="280.6" y="156.18" font-size="2.9" fill="#222" text-anchor="end">-60</text>
<line x1="281.4" y1="162.31" x2="282.5" y2="162.31" stroke="#777" stroke-width="0.4"/>
<text x="280.6" y="163.31" font-size="2.9" fill="#222" text-anchor="end">-70</text>
<line x1="281.4" y1="169.44" x2="282.5" y2="169.44" stroke="#777" stroke-width="0.4"/>
<text x="280.6" y="170.44" font-size="2.9" fill="#222" text-anchor="end">-80</text>
<line x1="281.4" y1="176.57" x2="282.5" y2="176.57" stroke="#777" stroke-width="0.4"/>
<text x="280.6" y="177.57" font-size="2.9" fill="#222" text-anchor="end">-90</text>
<line x1="281.4" y1="183.70" x2="282.5" y2="183.70" stroke="#777" stroke-width="0.4"/>
<text x="280.6" y="184.70" font-size="2.9" fill="#222" text-anchor="end">-100</text>
<rect x="283.00" y="15.43" width="4.9" height="96.97" fill="#FF0000"/>
<text x="285.45" y="188.1" font-size="3.9" fill="#222" text-anchor="middle">58</text>
<rect x="288.99" y="70.33" width="4.9" height="42.07" fill="#FF0000"/>
<text x="291.44" y="188.1" font-size="3.9" fill="#222" text-anchor="middle">32</text>
<rect x="294.97" y="95.00" width="4.9" height="17.40" fill="#FF0000"/>
<text x="297.42" y="188.1" font-size="3.9" fill="#222" text-anchor="middle">34</text>
<rect x="300.95" y="98.71" width="4.9" height="13.69" fill="#5B9BD5"/>
<text x="303.40" y="188.1" font-size="3.9" fill="#222" text-anchor="middle">18</text>
<rect x="306.94" y="99.92" width="4.9" height="12.48" fill="#5B9BD5"/>
<text x="309.39" y="188.1" font-size="3.9" fill="#222" text-anchor="middle">33</text>
<rect x="312.93" y="100.07" width="4.9" height="12.33" fill="#5B9BD5"/>
<text x="315.38" y="188.1" font-size="3.9" fill="#222" text-anchor="middle">30</text>
<rect x="318.91" y="100.07" width="4.9" height="12.33" fill="#5B9BD5"/>
<text x="321.36" y="188.1" font-size="3.9" fill="#222" text-anchor="middle">35</text>
<rect x="324.89" y="100.92" width="4.9" height="11.48" fill="#5B9BD5"/>
<text x="327.34" y="188.1" font-size="3.9" fill="#222" text-anchor="middle">36</text>
<rect x="330.88" y="101.13" width="4.9" height="11.27" fill="#5B9BD5"/>
<text x="333.33" y="188.1" font-size="3.9" fill="#222" text-anchor="middle">6</text>
<rect x="336.87" y="103.56" width="4.9" height="8.84" fill="#5B9BD5"/>
<text x="339.31" y="188.1" font-size="3.9" fill="#222" text-anchor="middle">14</text>
<rect x="342.85" y="104.20" width="4.9" height="8.20" fill="#5B9BD5"/>
<text x="345.30" y="188.1" font-size="3.9" fill="#222" text-anchor="middle">34</text>
<rect x="348.84" y="104.77" width="4.9" height="7.63" fill="#5B9BD5"/>
<text x="351.29" y="188.1" font-size="3.9" fill="#222" text-anchor="middle">17</text>
<rect x="354.82" y="105.91" width="4.9" height="6.49" fill="#5B9BD5"/>
<text x="357.27" y="188.1" font-size="3.9" fill="#222" text-anchor="middle">33</text>
<rect x="360.81" y="106.48" width="4.9" height="5.92" fill="#5B9BD5"/>
<text x="363.25" y="188.1" font-size="3.9" fill="#222" text-anchor="middle">37</text>
<rect x="366.79" y="108.76" width="4.9" height="3.64" fill="#5B9BD5"/>
<text x="369.24" y="188.1" font-size="3.9" fill="#222" text-anchor="middle">13</text>
<rect x="372.77" y="108.76" width="4.9" height="3.64" fill="#5B9BD5"/>
<text x="375.22" y="188.1" font-size="3.9" fill="#222" text-anchor="middle">3</text>
<rect x="378.76" y="109.62" width="4.9" height="2.78" fill="#5B9BD5"/>
<text x="381.21" y="188.1" font-size="3.9" fill="#222" text-anchor="middle">39</text>
<rect x="384.75" y="112.40" width="4.9" height="2.85" fill="#5B9BD5"/>
<text x="387.19" y="188.1" font-size="3.9" fill="#222" text-anchor="middle">20</text>
<rect x="390.73" y="112.40" width="4.9" height="3.56" fill="#5B9BD5"/>
<text x="393.18" y="188.1" font-size="3.9" fill="#222" text-anchor="middle">11</text>
<rect x="396.72" y="112.40" width="4.9" height="9.77" fill="#5B9BD5"/>
<text x="399.17" y="188.1" font-size="3.9" fill="#222" text-anchor="middle">21</text>
<rect x="402.70" y="112.40" width="4.9" height="10.20" fill="#5B9BD5"/>
<text x="405.15" y="188.1" font-size="3.9" fill="#222" text-anchor="middle">38</text>
<rect x="408.69" y="112.40" width="4.9" height="10.55" fill="#5B9BD5"/>
<text x="411.13" y="188.1" font-size="3.9" fill="#222" text-anchor="middle">15</text>
<rect x="414.67" y="112.40" width="4.9" height="12.83" fill="#5B9BD5"/>
<text x="417.12" y="188.1" font-size="3.9" fill="#222" text-anchor="middle">5</text>
<rect x="420.65" y="112.40" width="4.9" height="14.62" fill="#5B9BD5"/>
<text x="423.10" y="188.1" font-size="3.9" fill="#222" text-anchor="middle">45</text>
<rect x="426.64" y="112.40" width="4.9" height="17.11" fill="#5B9BD5"/>
<text x="429.09" y="188.1" font-size="3.9" fill="#222" text-anchor="middle">36</text>
<rect x="432.62" y="112.40" width="4.9" height="20.68" fill="#FFC000"/>
<text x="435.07" y="188.1" font-size="3.9" fill="#222" text-anchor="middle">20</text>
<rect x="438.61" y="112.40" width="4.9" height="20.68" fill="#FFC000"/>
<text x="441.06" y="188.1" font-size="3.9" fill="#222" text-anchor="middle">27</text>
<rect x="444.60" y="112.40" width="4.9" height="21.39" fill="#FFC000"/>
<text x="447.05" y="188.1" font-size="3.9" fill="#222" text-anchor="middle">43</text>
<rect x="450.58" y="112.40" width="4.9" height="21.96" fill="#FFC000"/>
<text x="453.03" y="188.1" font-size="3.9" fill="#222" text-anchor="middle">1</text>
<rect x="456.56" y="112.40" width="4.9" height="22.82" fill="#FFC000"/>
<text x="459.01" y="188.1" font-size="3.9" fill="#222" text-anchor="middle">51</text>
<rect x="462.55" y="112.40" width="4.9" height="23.24" fill="#FFC000"/>
<text x="465.00" y="188.1" font-size="3.9" fill="#222" text-anchor="middle">44</text>
<rect x="468.53" y="112.40" width="4.9" height="23.53" fill="#FFC000"/>
<text x="470.98" y="188.1" font-size="3.9" fill="#222" text-anchor="middle">40</text>
<rect x="474.52" y="112.40" width="4.9" height="23.81" fill="#FFC000"/>
<text x="476.97" y="188.1" font-size="3.9" fill="#222" text-anchor="middle">29</text>
<rect x="480.50" y="112.40" width="4.9" height="24.46" fill="#FFC000"/>
<text x="482.95" y="188.1" font-size="3.9" fill="#222" text-anchor="middle">9</text>
<rect x="486.49" y="112.40" width="4.9" height="24.81" fill="#FFC000"/>
<text x="488.94" y="188.1" font-size="3.9" fill="#222" text-anchor="middle">8</text>
<rect x="492.48" y="112.40" width="4.9" height="25.10" fill="#FFC000"/>
<text x="494.93" y="188.1" font-size="3.9" fill="#222" text-anchor="middle">10</text>
<rect x="498.46" y="112.40" width="4.9" height="25.45" fill="#FFC000"/>
<text x="500.91" y="188.1" font-size="3.9" fill="#222" text-anchor="middle">25</text>
<rect x="504.45" y="112.40" width="4.9" height="25.74" fill="#FFC000"/>
<text x="506.90" y="188.1" font-size="3.9" fill="#222" text-anchor="middle">46</text>
<rect x="510.43" y="112.40" width="4.9" height="26.02" fill="#FFC000"/>
<text x="512.88" y="188.1" font-size="3.9" fill="#222" text-anchor="middle">42</text>
<rect x="516.41" y="112.40" width="4.9" height="26.38" fill="#FFC000"/>
<text x="518.87" y="188.1" font-size="3.9" fill="#222" text-anchor="middle">52</text>
<rect x="522.40" y="112.40" width="4.9" height="26.95" fill="#FFC000"/>
<text x="524.85" y="188.1" font-size="3.9" fill="#222" text-anchor="middle">2</text>
<rect x="528.38" y="112.40" width="4.9" height="27.59" fill="#FFC000"/>
<text x="530.84" y="188.1" font-size="3.9" fill="#222" text-anchor="middle">19</text>
<rect x="534.37" y="112.40" width="4.9" height="27.88" fill="#FFC000"/>
<text x="536.82" y="188.1" font-size="3.9" fill="#222" text-anchor="middle">50</text>
<rect x="540.36" y="112.40" width="4.9" height="28.88" fill="#FFC000"/>
<text x="542.81" y="188.1" font-size="3.9" fill="#222" text-anchor="middle">6</text>
<rect x="546.34" y="112.40" width="4.9" height="29.52" fill="#FFC000"/>
<text x="548.79" y="188.1" font-size="3.9" fill="#222" text-anchor="middle">22</text>
<rect x="552.33" y="112.40" width="4.9" height="35.44" fill="#FFC000"/>
<text x="554.78" y="188.1" font-size="3.9" fill="#222" text-anchor="middle">13</text>
<rect x="558.31" y="112.40" width="4.9" height="36.01" fill="#FFC000"/>
<text x="560.76" y="188.1" font-size="3.9" fill="#222" text-anchor="middle">31</text>
<rect x="564.30" y="112.40" width="4.9" height="36.65" fill="#FFC000"/>
<text x="566.75" y="188.1" font-size="3.9" fill="#222" text-anchor="middle">53</text>
<rect x="570.28" y="112.40" width="4.9" height="43.21" fill="#FFC000"/>
<text x="572.73" y="188.1" font-size="3.9" fill="#222" text-anchor="middle">16</text>
<rect x="576.27" y="112.40" width="4.9" height="44.21" fill="#FFC000"/>
<text x="578.72" y="188.1" font-size="3.9" fill="#222" text-anchor="middle">49</text>
<rect x="582.25" y="112.40" width="4.9" height="71.30" fill="#00B050"/>
<text x="584.70" y="188.1" font-size="3.9" fill="#222" text-anchor="middle">7</text>
<rect x="588.24" y="112.40" width="4.9" height="71.30" fill="#00B050"/>
<text x="590.69" y="188.1" font-size="3.9" fill="#222" text-anchor="middle">41</text>
<rect x="594.22" y="112.40" width="4.9" height="71.30" fill="#00B050"/>
<text x="596.67" y="188.1" font-size="3.9" fill="#222" text-anchor="middle">47</text>
<line x1="282.5" y1="112.40" x2="603.5" y2="112.40" stroke="#555" stroke-width="0.6"/>
<line x1="282.5" y1="183.4" x2="603.8" y2="183.4" stroke="#555" stroke-width="0.6"/>
<line x1="282.5" y1="98.14" x2="603.5" y2="98.14" stroke="#333" stroke-width="0.6" stroke-dasharray="0.9,0.55"/>
<line x1="282.5" y1="133.79" x2="603.5" y2="133.79" stroke="#333" stroke-width="0.6" stroke-dasharray="0.9,0.55"/>
<text transform="translate(275.2,156) rotate(-90)" font-size="5.84" fill="#111" class="c">Change from baseline in target lesion size (%)</text>
<text x="434.6" y="195.6" font-size="6.31" fill="#111" class="c">Patient ID</text>
<rect x="466.75" y="12.80" width="9.0" height="8.6" fill="#00B050" stroke="#aaa" stroke-width="0.3"/>
<text x="484.8" y="19.60" font-size="6.2" fill="#111" class="c">Complete response (CR)</text>
<rect x="466.75" y="26.50" width="9.0" height="8.6" fill="#FFC000" stroke="#aaa" stroke-width="0.3"/>
<text x="484.8" y="33.30" font-size="6.2" fill="#111" class="c">Partial response (PR)</text>
<rect x="466.75" y="40.10" width="9.0" height="8.6" fill="#5B9BD5" stroke="#aaa" stroke-width="0.3"/>
<text x="484.8" y="46.90" font-size="6.2" fill="#111" class="c">Stable disease (SD)</text>
<rect x="466.75" y="54.10" width="9.0" height="8.6" fill="#FF0000" stroke="#aaa" stroke-width="0.3"/>
<text x="484.8" y="60.90" font-size="6.2" fill="#111" class="c">Progressive disease (PD)</text>
<text x="304.6" y="147.8" font-size="5.6" fill="#111" class="c">Objective response rate (ORR):&#160;&#160;&#160;52.8%</text>
<text x="304.6" y="156.8" font-size="5.6" fill="#111" class="c">Disease control rate (DCR):&#160;&#160;&#160;94.3%</text>
<text x="304.6" y="165.7" font-size="5.6" fill="#111" class="c">Clinical benefit rate (CBR):&#160;&#160;&#160;75.5%</text>
<text x="192.60" y="208.3" font-size="13.8" fill="#000">C</text>
<line x1="220.60" y1="201.5" x2="220.60" y2="268.50" stroke="#444" stroke-width="0.6"/>
<line x1="220.30" y1="268.30" x2="436.80" y2="268.30" stroke="#444" stroke-width="0.65"/>
<line x1="219.40" y1="205.10" x2="220.60" y2="205.10" stroke="#444" stroke-width="0.4"/>
<text x="219.00" y="206.95" font-size="5.1" fill="#222" class="b" text-anchor="end">100</text>
<line x1="219.40" y1="220.28" x2="220.60" y2="220.28" stroke="#444" stroke-width="0.4"/>
<text x="219.00" y="222.12" font-size="5.1" fill="#222" class="b" text-anchor="end">75</text>
<line x1="219.40" y1="235.45" x2="220.60" y2="235.45" stroke="#444" stroke-width="0.4"/>
<text x="219.00" y="237.30" font-size="5.1" fill="#222" class="b" text-anchor="end">50</text>
<line x1="219.40" y1="250.62" x2="220.60" y2="250.62" stroke="#444" stroke-width="0.4"/>
<text x="219.00" y="252.47" font-size="5.1" fill="#222" class="b" text-anchor="end">25</text>
<line x1="219.40" y1="265.80" x2="220.60" y2="265.80" stroke="#444" stroke-width="0.4"/>
<text x="219.00" y="267.65" font-size="5.1" fill="#222" class="b" text-anchor="end">0</text>
<line x1="230.50" y1="268.30" x2="230.50" y2="269.50" stroke="#444" stroke-width="0.4"/>
<text x="230.50" y="275.10" font-size="5.1" fill="#222" class="b" text-anchor="middle">0</text>
<line x1="279.30" y1="268.30" x2="279.30" y2="269.50" stroke="#444" stroke-width="0.4"/>
<text x="279.30" y="275.10" font-size="5.1" fill="#222" class="b" text-anchor="middle">5</text>
<line x1="328.10" y1="268.30" x2="328.10" y2="269.50" stroke="#444" stroke-width="0.4"/>
<text x="328.10" y="275.10" font-size="5.1" fill="#222" class="b" text-anchor="middle">10</text>
<line x1="376.90" y1="268.30" x2="376.90" y2="269.50" stroke="#444" stroke-width="0.4"/>
<text x="376.90" y="275.10" font-size="5.1" fill="#222" class="b" text-anchor="middle">15</text>
<line x1="425.70" y1="268.30" x2="425.70" y2="269.50" stroke="#444" stroke-width="0.4"/>
<text x="425.70" y="275.10" font-size="5.1" fill="#222" class="b" text-anchor="middle">20</text>
<text x="328.60" y="280.50" font-size="5.5" fill="#111" class="c" text-anchor="middle">Time</text>
<text transform="translate(207.70,235.15) rotate(-90)" font-size="5.55" fill="#111" text-anchor="middle">Survival probability (%)</text>
<path d="M230.50,235.3 H370.60" fill="none" stroke="#333" stroke-width="0.6" stroke-dasharray="1.8,1.5"/>
<path d="M370.60,236.0 V268.30" fill="none" stroke="#333" stroke-width="0.65" stroke-dasharray="1.8,1.4"/>
<path d="M230.70,204.90 H245.70 V206.00 H261.70 V207.10 H266.30 V208.30 H275.20 V209.40 H284.40 V211.00 H297.70 V212.00 H304.50 V213.30 H305.10 V214.60 H310.30 V215.70 H313.60 V216.80 H316.20 V217.90 H318.80 V219.20 H319.50 V220.40 H324.70 V221.70 H327.80 V223.00 H328.40 V224.20 H333.50 V226.10 H341.70 V227.90 H344.30 V229.40 H353.50 V230.90 H360.20 V232.80 H362.40 V234.60 H370.80 V237.40 H383.80 V240.40 H384.50 V243.30 H396.70 V247.60 H406.30" fill="none" stroke="#F01010" stroke-width="1.4"/><line x1="253.50" y1="204.80" x2="253.50" y2="207.20" stroke="#F01010" stroke-width="0.7"/><line x1="277.80" y1="208.20" x2="277.80" y2="210.60" stroke="#F01010" stroke-width="0.7"/><line x1="296.60" y1="209.80" x2="296.60" y2="212.20" stroke="#F01010" stroke-width="0.7"/><line x1="322.80" y1="219.20" x2="322.80" y2="221.60" stroke="#F01010" stroke-width="0.7"/><line x1="330.60" y1="223.00" x2="330.60" y2="225.40" stroke="#F01010" stroke-width="0.7"/><line x1="347.20" y1="228.20" x2="347.20" y2="230.60" stroke="#F01010" stroke-width="0.7"/><line x1="350.50" y1="228.20" x2="350.50" y2="230.60" stroke="#F01010" stroke-width="0.7"/><line x1="356.80" y1="229.70" x2="356.80" y2="232.10" stroke="#F01010" stroke-width="0.7"/><line x1="365.00" y1="233.40" x2="365.00" y2="235.80" stroke="#F01010" stroke-width="0.7"/><line x1="380.40" y1="236.20" x2="380.40" y2="238.60" stroke="#F01010" stroke-width="0.7"/><line x1="387.80" y1="242.10" x2="387.80" y2="244.50" stroke="#F01010" stroke-width="0.7"/><line x1="393.40" y1="242.10" x2="393.40" y2="244.50" stroke="#F01010" stroke-width="0.7"/><line x1="403.00" y1="246.40" x2="403.00" y2="248.80" stroke="#F01010" stroke-width="0.7"/>
<text x="366.60" y="208.9" font-size="4.0" fill="#111" class="c">Overall survival ( OS , months)</text>
<text x="354.00" y="227.10" font-size="4.3" fill="#111" class="c">median OS:14.3 (95% CI:11.3 - NR)</text>
<text x="220.90" y="291.90" font-size="6.4" fill="#111" class="b">Number at risk</text>
<text x="230.50" y="308.80" font-size="5.5" fill="#222" class="b" text-anchor="middle">53</text>
<text x="279.30" y="308.80" font-size="5.5" fill="#222" class="b" text-anchor="middle">44</text>
<text x="328.10" y="308.80" font-size="5.5" fill="#222" class="b" text-anchor="middle">28</text>
<text x="376.90" y="308.80" font-size="5.5" fill="#222" class="b" text-anchor="middle">11</text>
<text x="425.70" y="308.80" font-size="5.5" fill="#222" class="b" text-anchor="middle">0</text>
<text x="427.30" y="208.3" font-size="13.8" fill="#000">D</text>
<line x1="455.50" y1="201.5" x2="455.50" y2="269.50" stroke="#444" stroke-width="0.6"/>
<line x1="455.20" y1="269.30" x2="675.50" y2="269.30" stroke="#444" stroke-width="0.65"/>
<line x1="454.30" y1="204.50" x2="455.50" y2="204.50" stroke="#444" stroke-width="0.4"/>
<text x="453.90" y="206.35" font-size="5.1" fill="#222" class="b" text-anchor="end">100</text>
<line x1="454.30" y1="220.00" x2="455.50" y2="220.00" stroke="#444" stroke-width="0.4"/>
<text x="453.90" y="221.85" font-size="5.1" fill="#222" class="b" text-anchor="end">75</text>
<line x1="454.30" y1="235.50" x2="455.50" y2="235.50" stroke="#444" stroke-width="0.4"/>
<text x="453.90" y="237.35" font-size="5.1" fill="#222" class="b" text-anchor="end">50</text>
<line x1="454.30" y1="251.00" x2="455.50" y2="251.00" stroke="#444" stroke-width="0.4"/>
<text x="453.90" y="252.85" font-size="5.1" fill="#222" class="b" text-anchor="end">25</text>
<line x1="454.30" y1="266.50" x2="455.50" y2="266.50" stroke="#444" stroke-width="0.4"/>
<text x="453.90" y="268.35" font-size="5.1" fill="#222" class="b" text-anchor="end">0</text>
<line x1="465.40" y1="269.30" x2="465.40" y2="270.50" stroke="#444" stroke-width="0.4"/>
<text x="465.40" y="276.10" font-size="5.1" fill="#222" class="b" text-anchor="middle">0</text>
<line x1="515.30" y1="269.30" x2="515.30" y2="270.50" stroke="#444" stroke-width="0.4"/>
<text x="515.30" y="276.10" font-size="5.1" fill="#222" class="b" text-anchor="middle">4</text>
<line x1="565.20" y1="269.30" x2="565.20" y2="270.50" stroke="#444" stroke-width="0.4"/>
<text x="565.20" y="276.10" font-size="5.1" fill="#222" class="b" text-anchor="middle">8</text>
<line x1="615.10" y1="269.30" x2="615.10" y2="270.50" stroke="#444" stroke-width="0.4"/>
<text x="615.10" y="276.10" font-size="5.1" fill="#222" class="b" text-anchor="middle">12</text>
<line x1="665.00" y1="269.30" x2="665.00" y2="270.50" stroke="#444" stroke-width="0.4"/>
<text x="665.00" y="276.10" font-size="5.1" fill="#222" class="b" text-anchor="middle">16</text>
<text x="565.70" y="281.50" font-size="5.5" fill="#111" class="c" text-anchor="middle">Time</text>
<text transform="translate(442.60,235.15) rotate(-90)" font-size="5.55" fill="#111" text-anchor="middle">Survival probability (%)</text>
<path d="M465.40,235.3 H573.30" fill="none" stroke="#333" stroke-width="0.6" stroke-dasharray="1.8,1.5"/>
<path d="M573.30,236.0 V269.30" fill="none" stroke="#333" stroke-width="0.65" stroke-dasharray="1.8,1.4"/>
<path d="M466.00,204.30 H478.50 V205.20 H481.50 V206.60 H495.50 V207.80 H501.80 V209.10 H502.50 V210.40 H509.60 V211.50 H514.70 V212.90 H526.50 V213.90 H531.30 V215.00 H536.10 V215.90 H537.00 V217.50 H537.60 V219.10 H540.20 V220.50 H540.80 V221.70 H548.00 V222.80 H550.50 V223.90 H554.20 V225.40 H555.00 V226.50 H555.70 V227.60 H562.40 V228.70 H565.20 V230.10 H566.50 V231.40 H567.00 V232.80 H569.50 V234.30 H573.00 V236.00 H578.60 V237.60 H587.40 V239.20 H590.40 V240.70 H594.80 V242.30 H597.50 V243.50 H598.90 V244.70 H610.70 V246.70 H629.60 V249.50 H631.00 V252.10 H639.70 V255.00 H653.90 V258.90 H672.70" fill="none" stroke="#26ADA5" stroke-width="1.4"/><line x1="480.40" y1="204.00" x2="480.40" y2="206.40" stroke="#26ADA5" stroke-width="0.7"/><line x1="488.50" y1="205.40" x2="488.50" y2="207.80" stroke="#26ADA5" stroke-width="0.7"/><line x1="569.00" y1="231.60" x2="569.00" y2="234.00" stroke="#26ADA5" stroke-width="0.7"/><line x1="592.60" y1="239.50" x2="592.60" y2="241.90" stroke="#26ADA5" stroke-width="0.7"/><line x1="625.90" y1="245.50" x2="625.90" y2="247.90" stroke="#26ADA5" stroke-width="0.7"/><line x1="649.30" y1="253.80" x2="649.30" y2="256.20" stroke="#26ADA5" stroke-width="0.7"/><line x1="667.20" y1="257.70" x2="667.20" y2="260.10" stroke="#26ADA5" stroke-width="0.7"/><line x1="672.30" y1="257.70" x2="672.30" y2="260.10" stroke="#26ADA5" stroke-width="0.7"/>
<text x="596.00" y="208.9" font-size="4.0" fill="#111" class="c">Progression-free survival (PFS, months)</text>
<text x="596.00" y="235.00" font-size="4.3" fill="#111" class="c">median PFS:&#160;&#160;8.63 (95% CI:7.17 - 11.8)</text>
<text x="455.80" y="292.50" font-size="6.4" fill="#111" class="b">Number at risk</text>
<text x="465.40" y="309.40" font-size="5.5" fill="#222" class="b" text-anchor="middle">53</text>
<text x="515.30" y="309.40" font-size="5.5" fill="#222" class="b" text-anchor="middle">41</text>
<text x="565.20" y="309.40" font-size="5.5" fill="#222" class="b" text-anchor="middle">26</text>
<text x="615.10" y="309.40" font-size="5.5" fill="#222" class="b" text-anchor="middle">10</text>
<text x="665.00" y="309.40" font-size="5.5" fill="#222" class="b" text-anchor="middle">2</text></svg>
</body></html>
